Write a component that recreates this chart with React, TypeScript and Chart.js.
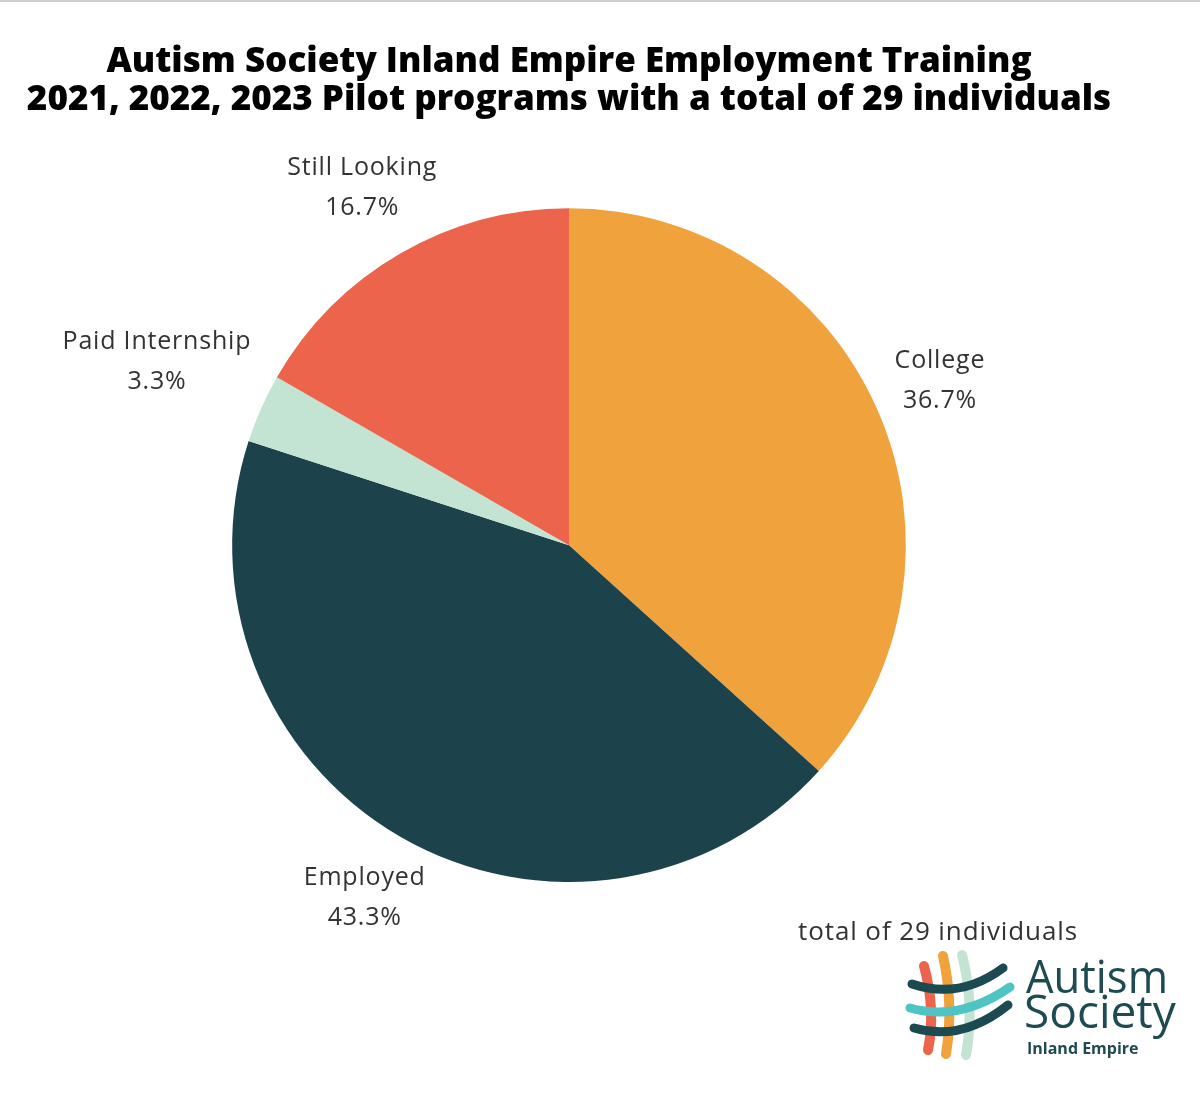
import React, { useEffect, useRef } from "react";
import { Chart, registerables } from "chart.js";

Chart.register(...registerables);

const categories = ["College", "Employed", "Paid Internship", "Still Looking"];
const shares = [36.7, 43.3, 3.3, 16.7];
const colors = ["#F0A23C", "#1C434C", "#C3E4D3", "#EB644B"];
const titleLines = [
  "Autism Society Inland Empire Employment Training",
  "2021, 2022, 2023 Pilot programs with a total of 29 individuals",
];
const footnote = "total of 29 individuals";

const LABEL_FONT = "25px 'Open Sans', sans-serif";

const boxDist = (cx: number, cy: number, w: number, h: number, ox: number, oy: number) => {
  const nx = Math.max(cx - w / 2, Math.min(ox, cx + w / 2));
  const ny = Math.max(cy - h / 2, Math.min(oy, cy + h / 2));
  return Math.hypot(nx - ox, ny - oy);
};

const decorPlugin = {
  id: "decor",
  beforeDraw(chart: any) {
    const ctx = chart.ctx;
    ctx.save();
    ctx.fillStyle = "#ffffff";
    ctx.fillRect(0, 0, chart.width, chart.height);
    ctx.fillStyle = "#cfcfcf";
    ctx.fillRect(0, 0, chart.width, 2);
    ctx.restore();
  },
  afterDatasetsDraw(chart: any) {
    const ctx = chart.ctx;
    const meta = chart.getDatasetMeta(0);
    const ds = chart.data.datasets[0];
    ctx.save();
    ctx.font = LABEL_FONT;
    (ctx as any).letterSpacing = "0.8px";
    ctx.fillStyle = "#333333";
    ctx.textAlign = "center";
    ctx.textBaseline = "middle";
    meta.data.forEach((arc: any, i: number) => {
      const p = arc.getProps(["x", "y", "startAngle", "endAngle", "outerRadius"], true);
      const mid = (p.startAngle + p.endAngle) / 2;
      const l1 = String(chart.data.labels[i]);
      const l2 = Number(ds.data[i]).toFixed(1) + "%";
      const w = Math.max(ctx.measureText(l1).width, ctx.measureText(l2).width);
      const h = 64;
      const gap = p.outerRadius + 14;
      let D = p.outerRadius;
      let cx = p.x;
      let cy = p.y;
      for (let k = 0; k < 400; k++) {
        cx = p.x + D * Math.cos(mid);
        cy = p.y + D * Math.sin(mid);
        if (boxDist(cx, cy, w, h, p.x, p.y) >= gap) break;
        D += 1;
      }
      ctx.fillText(l1, cx, cy - 20);
      ctx.fillText(l2, cx, cy + 20);
    });

    // footnote
    ctx.textAlign = "left";
    ctx.textBaseline = "alphabetic";
    ctx.font = "26px 'Open Sans', sans-serif";
    (ctx as any).letterSpacing = "0.9px";
    ctx.fillStyle = "#333333";
    ctx.fillText(footnote, 798, 940);
    (ctx as any).letterSpacing = "0px";

    // logo mark
    ctx.lineCap = "round";
    ctx.lineWidth = 10;
    const strip = (c: string, pts: number[]) => {
      ctx.strokeStyle = c;
      ctx.beginPath();
      ctx.moveTo(pts[0], pts[1]);
      ctx.quadraticCurveTo(pts[2], pts[3], pts[4], pts[5]);
      ctx.stroke();
    };
    strip("#EB644B", [924, 966, 936, 1010, 928, 1050]);
    strip("#F0A23C", [943, 956, 954, 1005, 946, 1054]);
    strip("#C3E4D3", [962, 955, 975, 1005, 966, 1055]);
    ctx.lineWidth = 9;
    strip("#1C4A52", [912, 984, 960, 1000, 1003, 968]);
    strip("#4FC4C4", [910, 1008, 960, 1022, 1010, 987]);
    strip("#1C4A52", [914, 1028, 962, 1042, 1008, 1005]);

    // logo text
    ctx.fillStyle = "#1E4A52";
    ctx.font = "46px 'Open Sans', sans-serif";
    ctx.fillText("Autism", 1026, 993, 142);
    ctx.fillText("Society", 1024, 1028, 156);
    ctx.font = "bold 16px 'Open Sans', sans-serif";
    ctx.fillText("Inland Empire", 1027, 1054, 121);
    ctx.restore();
  },
};

export default function App() {
  const ref = useRef<HTMLCanvasElement | null>(null);
  useEffect(() => {
    document.body.style.margin = "0";
    const canvas = ref.current;
    if (!canvas) return;
    const chart = new Chart(canvas, {
      type: "pie",
      data: {
        labels: categories,
        datasets: [
          {
            data: shares,
            backgroundColor: colors,
            borderWidth: 0,
          },
        ],
      },
      plugins: [decorPlugin],
      options: {
        animation: false,
        responsive: false,
        maintainAspectRatio: false,
        layout: { padding: { left: 0, right: 62, top: 0, bottom: 211 } },
        plugins: {
          legend: { display: false },
          tooltip: { enabled: false },
          title: {
            display: true,
            text: titleLines,
            color: "#000000",
            font: { family: "'Open Sans', sans-serif", size: 35, weight: 800, lineHeight: 1.09 },
            padding: { top: 43, bottom: 89 },
          },
        },
      },
    });
    return () => chart.destroy();
  }, []);
  return <canvas ref={ref} width={1200} height={1093} style={{ display: "block" }} />;
}
